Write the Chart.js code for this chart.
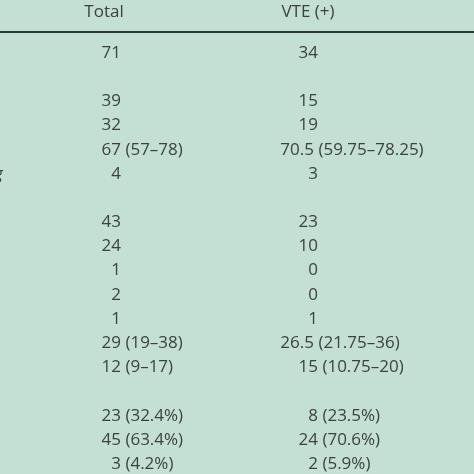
<!DOCTYPE html>
<html><head><meta charset="utf-8">
<script src="https://cdn.jsdelivr.net/npm/chart.js@4"></script>
<style>html,body{margin:0;padding:0;background:#c4e0d4;}#w{width:474px;height:474px;}</style>
</head><body><div id="w"><canvas id="c"></canvas></div>
<script>
const headers = ["Total", "VTE (+)"];
const rowIndex = [0, 2, 3, 4, 5, 7, 8, 9, 10, 11, 12, 13, 15, 16, 17];
const totalLead = ["71","39","32","67","4","43","24","1","2","1","29","12","23","45","3"];
const totalRest = ["","",""," (57–78)","","","","","","",""+" (19–38)"," (9–17)"," (32.4%)"," (63.4%)"," (4.2%)"];
const vteLead = ["34","15","19","70.5","3","23","10","0","0","1","26.5","15","8","24","2"];
const vteRest = ["","",""," (59.75–78.25)","","","","","","",""+" (21.75–36)"," (10.75–20)"," (23.5%)"," (70.6%)"," (5.9%)"];
const colAnchor = [121, 318];
const headerRow = -1.69;
const ruleRow = -0.87;

const tablePlugin = {
  id: 'table',
  afterDraw(chart) {
    const ctx = chart.ctx, xs = chart.scales.x, ys = chart.scales.y;
    ctx.save();
    ctx.fillStyle = '#3c4240';
    ctx.font = '17px "Open Sans", "DejaVu Sans", sans-serif';
    ctx.textBaseline = 'middle';
    ctx.textAlign = 'center';
    ctx.fillText(headers[0], 104, ys.getPixelForValue(headerRow));
    ctx.fillText(headers[1], 308, ys.getPixelForValue(headerRow));
    ctx.strokeStyle = '#2a3833';
    ctx.lineWidth = 2;
    const ry = ys.getPixelForValue(ruleRow);
    ctx.beginPath(); ctx.moveTo(0, ry); ctx.lineTo(474, ry); ctx.stroke();
    rowIndex.forEach((r, i) => {
      const y = ys.getPixelForValue(r);
      [[totalLead, totalRest], [vteLead, vteRest]].forEach(([lead, rest], c) => {
        let x = xs.getPixelForValue(colAnchor[c]);
        let l = lead[i];
        if (l.includes('.')) x -= 4;
        ctx.textAlign = 'right';
        ctx.fillText(l, x, y);
        ctx.textAlign = 'left';
        ctx.fillText(rest[i], x, y);
      });
    });
    ctx.textAlign = 'left';
    ctx.font = 'italic 17px "Open Sans", sans-serif';
    ctx.fillText('g', -6, ys.getPixelForValue(5));
    ctx.restore();
  }
};

new Chart(document.getElementById('c'), {
  type: 'scatter',
  data: { datasets: [{ data: rowIndex.map(r => ({x: 0, y: r})), pointRadius: 0 }] },
  options: {
    responsive: true, maintainAspectRatio: false, animation: false,
    layout: { padding: 0 },
    plugins: { legend: { display: false }, tooltip: { enabled: false } },
    scales: {
      x: { type: 'linear', min: 0, max: 474, display: false },
      y: { type: 'linear', min: -2.19, max: 17.41, reverse: true, display: false }
    }
  },
  plugins: [tablePlugin]
});
</script></body></html>
